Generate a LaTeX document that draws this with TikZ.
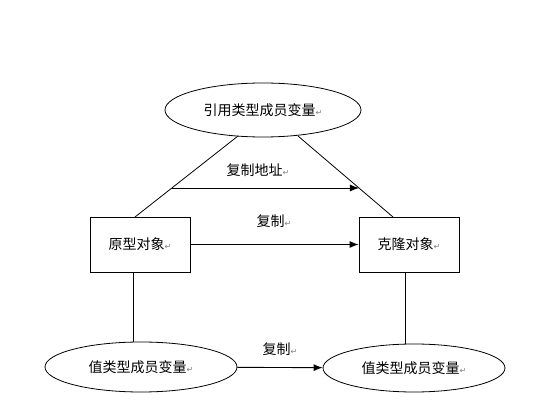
\documentclass[tikz,border=0pt]{standalone}
\usepackage{fontspec}
\setmainfont{Noto Sans CJK SC}
\newfontfamily\symfont{DejaVu Sans}
\usetikzlibrary{arrows.meta,shapes.geometric,calc}
\tikzstyle{obj}=[rectangle,fill=white,draw=black,
  line width=0.8 pt,minimum width=100pt,minimum height=55pt]
\tikzstyle{var}=[ellipse,fill=white,draw=black,
  line width=0.8 pt,inner sep=0pt]
\tikzstyle{lbl}=[inner sep=1pt]
\tikzstyle{none}=[inner sep=0pt]
\tikzstyle{copyarr}=[-{Latex[length=9pt,width=7pt]},line width=0.9 pt]
\newcommand{\pmark}{{\symfont\color{gray}\fontsize{8}{8}\selectfont ↵}}

\begin{document}
\begin{tikzpicture}[x=1pt,y=-1pt,font=\fontsize{14}{16}\selectfont,line width=0.8 pt]
		\useasboundingbox (0,0) rectangle (542,414);
		\node [style=var,minimum width=196pt,minimum height=54pt] (0) at (263,110) {引用类型成员变量\pmark};
		\node [style=obj] (1) at (140,244.5) {原型对象\pmark};
		\node [style=obj] (2) at (409,244.5) {克隆对象\pmark};
		\node [style=var,minimum width=192pt,minimum height=50pt] (3) at (141,367) {值类型成员变量\pmark};
		\node [style=var,minimum width=182pt,minimum height=48pt] (4) at (414,368) {值类型成员变量\pmark};
		\node [style=none] (5) at (238,136) {};
		\node [style=none] (6) at (135,217) {};
		\node [style=none] (7) at (298,136) {};
		\node [style=none] (8) at (393,217) {};
		\node [style=none] (9) at ($(5.center)!0.642!(6.center)$) {};
		\node [style=none] (10) at ($(7.center)!0.642!(8.center)$) {};
		\node [style=lbl] (11) at (258,170) {复制地址\pmark};
		\node [style=lbl] (12) at (274,221) {复制\pmark};
		\node [style=lbl] (13) at (280,349) {复制\pmark};
		\draw (5.center) to (6.center);
		\draw (7.center) to (8.center);
		\draw [style=copyarr] (9.center) to (10.center);
		\draw [style=copyarr] (1) to (2);
		\draw (1.south -| 133,0) to (3.north -| 133,0);
		\draw (2.south -| 405,0) to (405,344);
		\draw [style=copyarr] (3) to (4);
\end{tikzpicture}
\end{document}
